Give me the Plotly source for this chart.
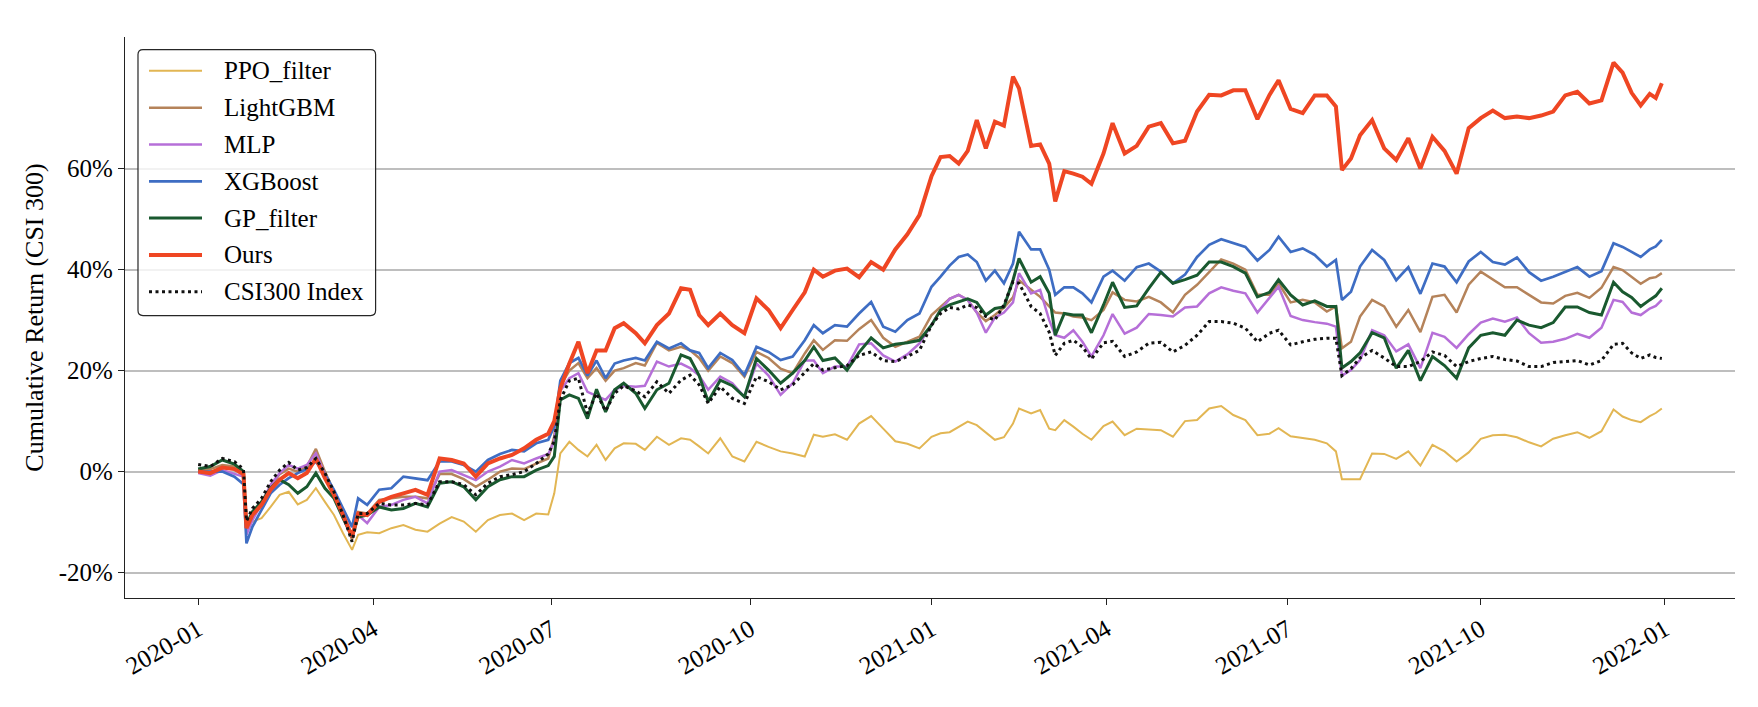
import plotly.graph_objects as go

# trading days (x axis skips weekends and exchange holidays)
DATES = [
    "2020-01-02", "2020-01-08", "2020-01-14", "2020-01-20", "2020-01-23", "2020-02-03", "2020-02-05",
    "2020-02-10", "2020-02-13", "2020-02-18", "2020-02-21", "2020-02-26", "2020-03-02", "2020-03-05",
    "2020-03-10", "2020-03-13", "2020-03-18", "2020-03-23", "2020-03-25", "2020-03-30", "2020-04-03",
    "2020-04-10", "2020-04-16", "2020-04-22", "2020-04-28", "2020-05-07", "2020-05-13", "2020-05-19",
    "2020-05-25", "2020-05-29", "2020-06-04", "2020-06-10", "2020-06-16", "2020-06-22", "2020-06-30",
    "2020-07-02", "2020-07-06", "2020-07-09", "2020-07-14", "2020-07-17", "2020-07-22", "2020-07-27",
    "2020-07-30", "2020-08-04", "2020-08-10", "2020-08-13", "2020-08-19", "2020-08-25", "2020-08-31",
    "2020-09-03", "2020-09-08", "2020-09-11", "2020-09-17", "2020-09-23", "2020-09-29", "2020-10-13",
    "2020-10-19", "2020-10-23", "2020-10-29", "2020-11-04", "2020-11-09", "2020-11-12", "2020-11-18",
    "2020-11-24", "2020-11-30", "2020-12-04", "2020-12-10", "2020-12-16", "2020-12-22", "2020-12-28",
    "2021-01-04", "2021-01-07", "2021-01-12", "2021-01-15", "2021-01-20", "2021-01-25", "2021-01-28",
    "2021-02-02", "2021-02-05", "2021-02-10", "2021-02-19", "2021-02-25", "2021-03-02", "2021-03-05",
    "2021-03-09", "2021-03-12", "2021-03-17", "2021-03-22", "2021-03-25", "2021-03-31", "2021-04-06",
    "2021-04-12", "2021-04-16", "2021-04-22", "2021-04-28", "2021-05-07", "2021-05-13", "2021-05-19",
    "2021-05-25", "2021-05-31", "2021-06-04", "2021-06-10", "2021-06-17", "2021-06-23", "2021-06-28",
    "2021-07-02", "2021-07-08", "2021-07-14", "2021-07-20", "2021-07-23", "2021-07-27", "2021-07-30",
    "2021-08-04", "2021-08-10", "2021-08-16", "2021-08-20", "2021-08-26", "2021-09-01", "2021-09-07",
    "2021-09-13", "2021-09-17", "2021-09-27", "2021-10-08", "2021-10-14", "2021-10-20", "2021-10-26",
    "2021-11-01", "2021-11-05", "2021-11-11", "2021-11-17", "2021-11-23", "2021-11-29", "2021-12-03",
    "2021-12-09", "2021-12-14", "2021-12-17", "2021-12-22", "2021-12-27", "2021-12-29", "2021-12-31",
]

# cumulative return, %
PPO_FILTER = [
    0.3, 0, 0.8, 0.5, -1, -10.5, -9.9, -9.2, -7, -4.6, -4, -6.5, -5.6, -3.3, -6, -8.6, -12.2, -15.5,
    -12.5, -12, -12.2, -11.2, -10.6, -11.5, -11.9, -10.3, -9, -9.9, -11.9, -9.6, -8.6, -8.3, -9.6, -8.3,
    -8.5, -4.3, 3.6, 5.9, 4.3, 3, 5.3, 2.3, 4.6, 5.6, 5.5, 4.3, 6.9, 5.3, 6.6, 6.3, 5, 3.6, 6.6, 3, 2,
    5.9, 4.9, 4, 3.6, 3, 7.3, 6.9, 7.4, 6.3, 9.5, 11, 8.5, 6, 5.5, 4.6, 6.9, 7.6, 7.8, 8.8, 9.9, 9.2,
    7.8, 6.3, 6.8, 9.5, 12.5, 11.5, 12.2, 8.5, 8.2, 10.2, 8.9, 7.5, 6.3, 9, 9.9, 7.2, 8.5, 8.3, 8.2,
    6.9, 10, 10.2, 12.5, 13, 11.2, 10.2, 7.2, 7.5, 8.6, 7, 6.6, 6.3, 5.6, 4, -1.5, -1.5, -1.5, 3.6,
    3.5, 2.5, 4, 1.2, 5.3, 4, 2, 3.8, 6.5, 7.2, 7.3, 6.8, 5.8, 5, 6.5, 7.2, 7.8, 6.7, 8, 12.3, 10.9,
    10.2, 9.8, 11, 11.6, 12.5,
]
LIGHTGBM = [
    0.2, 0.5, 1.3, 1, -0.5, -11, -8.5, -6, -3, -0.5, 0.6, 0, 1, 4.5, 0, -4, -8.6, -13.5, -8, -8.3,
    -5.6, -5.3, -5, -5, -5.3, -0.5, -0.5, -1.5, -3, -1.6, 0, 0.6, 0.5, 1.6, 2.6, 7, 17, 20, 21.5, 18.5,
    20.5, 18, 20, 20.5, 21.5, 21, 25.5, 24, 24.7, 24, 22.5, 20, 22.8, 21.5, 18.8, 23.7, 22.5, 20.4,
    19.5, 23.4, 26, 24.1, 26, 25.9, 28.2, 30, 26.5, 24.7, 25.7, 26.7, 31, 32.7, 34.2, 35, 34, 31.5,
    29.8, 31, 32.5, 34.5, 37.9, 36, 34.6, 32.7, 31.5, 31.3, 30.7, 30.5, 30, 32, 35.5, 34, 33.7, 34.6,
    33.5, 31.5, 35, 37, 39.5, 42, 41.2, 40, 35, 35, 37.3, 33.5, 34, 33.5, 31.7, 32.7, 24.4, 25.7,
    30.7, 34, 32.7, 28.7, 32, 27.6, 34.6, 35, 31.5, 37, 39.6, 38, 36.5, 36.5, 35, 33.5, 33.3, 34.8,
    35.4, 34.4, 36.4, 40.5, 39.9, 38.6, 37.2, 38.3, 38.5, 39.3,
]
MLP = [
    -0.3, -0.8, 0.3, -0.5, -1, -12.5, -9.6, -6.3, -2.6, -0.3, 1.3, 0.6, 1.3, 3.6, -0.5, -4, -8.3,
    -12.9, -8.6, -10.2, -7, -6.6, -5.6, -5, -6.3, 0, 0.3, -0.7, -1.7, 0, 1, 2.3, 1.6, 2.6, 3.5, 6, 16,
    18.5, 19.5, 15.8, 15, 14.2, 16.2, 17, 16.8, 17, 21.8, 20.8, 21.4, 20.5, 19, 16.2, 18.8, 17.5, 14.8,
    21.4, 19, 15.2, 17.5, 22, 22, 19.5, 20.8, 20.8, 25.2, 25.4, 23, 21.8, 23.2, 25.4, 29, 32, 34.2, 35,
    34, 31.5, 27.5, 30.5, 31.5, 33.5, 39.3, 35.3, 36, 30, 27, 26.5, 28, 25.7, 22.8, 27, 31.2, 27.3,
    28.5, 31.2, 31, 30.7, 32.5, 32.7, 35.3, 36.5, 35.8, 35.3, 31.5, 34.5, 36.6, 30.8, 30, 29.6, 29.3,
    28.7, 19, 20.1, 22.1, 28, 27, 23.8, 25.2, 20.5, 27.5, 26.7, 24.5, 27.2, 29.5, 30.3, 29.7, 30.5,
    27.4, 25.5, 25.7, 26.3, 27.3, 26.5, 28.5, 34, 33.6, 31.5, 31, 32.3, 32.8, 34,
]
XGBOOST = [
    0, 0, 0, -1, -2.5, -14.2, -10.9, -7.6, -4.3, -2.6, -1.3, -0.3, 0.5, 2, -0.5, -3.6, -7.3, -11,
    -5.3, -6.6, -3.6, -3.3, -1, -1.3, -1.7, 2, 2, 1.3, 0, 2.3, 3.5, 4.3, 4, 5.6, 6.3, 9, 18, 21.5, 22.5,
    19, 22, 18.5, 21.4, 22, 22.5, 22, 25.7, 24.4, 25.4, 24, 23.5, 20.5, 23.5, 22.1, 19.1, 24.7, 23.7,
    22.1, 22.8, 26, 29, 27.4, 29, 28.7, 31.3, 33.6, 28.7, 27.7, 30, 31.3, 36.6, 38.6, 40.8, 42.5, 43,
    41.5, 37.8, 39.8, 37.3, 41.2, 47.5, 44, 44, 40, 35, 36.5, 36.5, 35.3, 33.5, 38.6, 39.8, 37.8,
    40.5, 41.2, 39.6, 37.3, 39, 42.5, 44.9, 46, 45.2, 44.5, 41.8, 43.9, 46.5, 43.5, 44.2, 42.9, 40.6,
    41.9, 34, 35.6, 40.6, 43.9, 41.9, 37.9, 40.5, 35.2, 41.2, 40.6, 37.5, 41.6, 43.5, 41.5, 41, 42.4,
    39.5, 37.8, 38.6, 39.5, 40.5, 38.6, 39.7, 45.2, 44.5, 43.5, 42.5, 44, 44.6, 45.9,
]
GP_FILTER = [
    0.5, 1, 2.3, 1.5, 0, -10.5, -7.9, -6, -3.3, -1.6, -2.6, -4.3, -3, -0.3, -3.3, -5.3, -9.2, -12.9,
    -9, -8.6, -7, -7.6, -7.3, -6.3, -7, -2.3, -2, -3, -5.6, -3, -1.6, -1, -1, 0.3, 1.2, 3, 14.2, 15.2,
    14.5, 10.5, 16.3, 11.8, 16.2, 17.5, 15.5, 12.5, 16.2, 17.5, 23.1, 22.4, 19, 13.9, 18.1, 17, 14.8,
    22.4, 20.1, 17.5, 19.5, 22, 24.7, 22, 22.5, 20.1, 23.6, 26.5, 24.5, 25.2, 25.5, 26, 29, 32, 33,
    33.6, 34.2, 33.5, 31, 32.3, 32.6, 37.9, 42.2, 37.5, 38.6, 35.3, 27, 31.3, 31, 31, 27.5, 33, 37.5,
    32.5, 32.8, 36.3, 39.5, 37.3, 38, 38.9, 41.5, 41.5, 40.6, 39.3, 34.6, 35.5, 38, 35, 33, 33.8, 32.7,
    32.7, 20.5, 21.8, 23.5, 27.5, 26.5, 20.5, 24, 18, 22.8, 21, 18.5, 24.5, 27, 27.5, 27, 30, 29, 28.5,
    29.5, 32.6, 32.6, 31.5, 31, 37.5, 35.6, 34.5, 32.7, 34, 34.8, 36.3,
]
OURS = [
    0, -0.3, 0.8, 0.5, -0.5, -11.2, -8.6, -6.6, -3.6, -1.6, -0.3, -1.3, -0.3, 2.6, -1.3, -4.6, -8.6,
    -12.9, -8.3, -8.6, -6, -5, -4.3, -3.6, -4.6, 2.6, 2.3, 1.6, -1, 1.6, 2.6, 3.3, 4.6, 6.3, 7.5, 10,
    16.5, 21.4, 25.7, 19.5, 24, 24, 28.4, 29.4, 27.4, 25.4, 29, 31.3, 36.3, 36, 31, 29, 31.3, 29, 27.4,
    34.3, 32, 28.4, 32, 35.5, 40, 38.6, 39.8, 40.2, 38.5, 41.5, 40, 44, 47, 50.8, 58.5, 62.3, 62.5, 61,
    63.5, 69.6, 64, 69.3, 68.5, 78.2, 75.9, 64.5, 64.8, 61, 53.5, 59.5, 59, 58.4, 57, 63, 69, 63, 64.5,
    68.3, 69, 65, 65.5, 71.3, 74.6, 74.5, 75.5, 75.5, 69.8, 74.6, 77.5, 71.8, 71, 74.5, 74.5, 72.3,
    59.7, 62, 66.6, 69.6, 64, 61.7, 66, 60, 66.3, 63.5, 59, 68, 70, 71.5, 70, 70.3, 70, 70.5, 71.3,
    74.5, 75.2, 72.9, 73.5, 81, 79, 75, 72.5, 74.8, 74, 76.9,
]
CSI300 = [
    1.4, 1.0, 2.6, 2.0, 0.5, -9.8, -7.3, -5.3, -2, 0.3, 1.8, 0.3, 0.8, 2.6, -0.3, -4, -8.6, -13.9,
    -8.3, -8.3, -6.3, -6.6, -6.6, -6.3, -6.6, -2, -2, -2.6, -4.6, -2.3, -1, -0.6, 0, 1.6, 3.5, 6, 14.2,
    18, 18.5, 11.5, 15.5, 12, 15.5, 17, 16, 14.8, 17.8, 15.5, 18.1, 19.1, 17.2, 13.5, 16.8, 14.5, 13.5,
    18.8, 17.8, 16.2, 17.2, 19.5, 21.4, 20.1, 20.5, 21, 23, 23.7, 22, 21.8, 22.8, 24, 29, 31.3, 32.5,
    32.2, 33, 32.5, 30.7, 30, 33, 37.6, 37.3, 32.7, 31.3, 27.6, 23, 25.4, 26, 24.7, 22.3, 25.5, 25.8,
    22.8, 23.7, 25.4, 25.6, 23.7, 25, 27, 29.7, 29.7, 29.4, 28.4, 25.7, 27.4, 28, 25.1, 25.7, 26.2,
    26.4, 26.4, 19, 20.4, 22.5, 24, 22.5, 20.8, 20.8, 21.8, 23.7, 23, 20.8, 21.8, 22.4, 22.8, 22.2,
    21.9, 20.8, 20.8, 21.6, 21.8, 22, 21.1, 22, 25.2, 25.4, 23.5, 22.4, 23.1, 22.6, 22.4,
]

# weekday closures of the exchange inside the plotted span
HOLIDAYS = [
    "2020-01-01", "2020-01-24", "2020-01-27", "2020-01-28", "2020-01-29", "2020-01-30", "2020-01-31",
    "2020-04-06", "2020-05-01", "2020-05-04", "2020-05-05", "2020-06-25", "2020-06-26",
    "2020-10-01", "2020-10-02", "2020-10-05", "2020-10-06", "2020-10-07", "2020-10-08",
    "2021-01-01", "2021-02-11", "2021-02-12", "2021-02-15", "2021-02-16", "2021-02-17",
    "2021-04-05", "2021-05-03", "2021-05-04", "2021-05-05", "2021-06-14", "2021-09-20", "2021-09-21",
    "2021-10-01", "2021-10-04", "2021-10-05", "2021-10-06", "2021-10-07",
]
X_TICKS = ["2020-01-02", "2020-04-01", "2020-07-01", "2020-10-09", "2021-01-04",
           "2021-04-01", "2021-07-01", "2021-10-08", "2022-01-03"]
X_LABELS = ["2020-01", "2020-04", "2020-07", "2020-10", "2021-01",
            "2021-04", "2021-07", "2021-10", "2022-01"]
Y_TICKS = [-20, 0, 20, 40, 60]
Y_LABELS = ["-20%", "0%", "20%", "40%", "60%"]

FONT = "Liberation Serif, Times New Roman, serif"
W, H = 1758, 707
ML, MR, MT, MB = 125, 23, 37, 109

# name, values, colour, width, dash
series = [
    ("PPO_filter", PPO_FILTER, "#E2B653", 2.0, "solid"),
    ("LightGBM", LIGHTGBM, "#B5835A", 2.5, "solid"),
    ("MLP", MLP, "#B66FD8", 2.5, "solid"),
    ("XGBoost", XGBOOST, "#3E6DC3", 2.7, "solid"),
    ("GP_filter", GP_FILTER, "#19592F", 3.0, "solid"),
    ("Ours", OURS, "#EF4623", 4.0, "solid"),
    ("CSI300 Index", CSI300, "#111111", 3.0, "3px,3.5px"),
]


def px(x, y):
    # pixel position on the page -> paper coordinates
    return (x - ML) / (W - ML - MR), (H - MB - y) / (H - MT - MB)


fig = go.Figure()
for name, values, color, width, dash in series:
    fig.add_trace(go.Scatter(
        x=DATES, y=values, name=name, mode="lines",
        line=dict(color=color, width=width, dash=dash),
    ))

# legend drawn by hand: rounded frame, 53px line samples
shapes = []
x0, x1, y0, y1, r = 138, 375.6, 49.6, 315.6, 5
pts = [("M", x0 + r, y0), ("L", x1 - r, y0), ("Q", x1, y0, x1, y0 + r), ("L", x1, y1 - r),
       ("Q", x1, y1, x1 - r, y1), ("L", x0 + r, y1), ("Q", x0, y1, x0, y1 - r),
       ("L", x0, y0 + r), ("Q", x0, y0, x0 + r, y0)]
path = ""
for p in pts:
    coords = []
    for i in range(1, len(p), 2):
        a, b = px(p[i], p[i + 1])
        coords.append(f"{a:.5f},{b:.5f}")
    path += p[0] + " " + " ".join(coords) + " "
shapes.append(dict(type="path", path=path + "Z", xref="paper", yref="paper", layer="above",
                   fillcolor="rgba(255,255,255,0.8)", line=dict(color="#262626", width=1.2)))

annotations = []
for i, (name, values, color, width, dash) in enumerate(series):
    yy = 70.8 + 36.83 * i
    ax0, ay = px(149, yy)
    ax1, _ = px(202, yy)
    shapes.append(dict(type="line", xref="paper", yref="paper", layer="above",
                       x0=ax0, x1=ax1, y0=ay, y1=ay,
                       line=dict(color=color, width=width, dash=dash)))
    tx, _ = px(222, yy)
    annotations.append(dict(xref="paper", yref="paper", x=tx, y=ay, text=name, showarrow=False,
                            xanchor="left", yanchor="middle", font=dict(size=25)))

fig.update_layout(
    width=W, height=H,
    margin=dict(l=ML, r=MR, t=MT, b=MB),
    paper_bgcolor="white", plot_bgcolor="white",
    font=dict(family=FONT, size=25, color="black"),
    showlegend=False,
    shapes=shapes,
    annotations=annotations,
    xaxis=dict(
        type="date",
        range=["2019-11-27 18:00", "2022-02-03 06:00"],
        rangebreaks=[dict(bounds=["sat", "mon"]), dict(values=HOLIDAYS)],
        tickmode="array", tickvals=X_TICKS, ticktext=X_LABELS, tickangle=-30,
        ticks="outside", ticklen=6, tickwidth=1.3, tickcolor="#222222",
        showline=True, linecolor="#222222", linewidth=1.3,
        showgrid=False, zeroline=False,
    ),
    yaxis=dict(
        range=[-25.03, 86.06],
        tickmode="array", tickvals=Y_TICKS, ticktext=Y_LABELS,
        ticks="outside", ticklen=6, tickwidth=1.3, tickcolor="#222222",
        showline=True, linecolor="#222222", linewidth=1.3,
        showgrid=True, gridcolor="#BEBEBE", gridwidth=1.6, zeroline=False,
        title=dict(text="Cumulative Return (CSI 300)", standoff=7, font=dict(size=26)),
    ),
)

fig.write_html("out.html", config={"displayModeBar": False},
               post_script="document.body.style.margin='0';")
